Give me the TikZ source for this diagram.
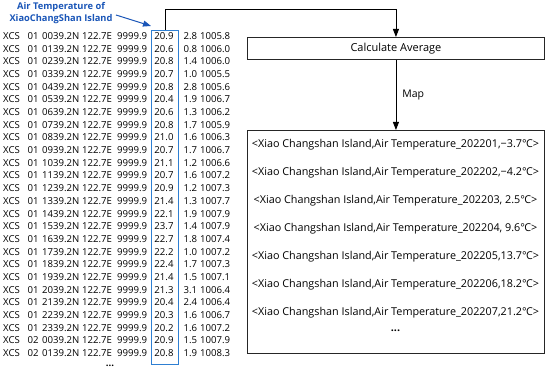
\documentclass[tikz,border=0pt]{standalone}
\usepackage{fontspec}
\setmainfont{Open Sans}
\usetikzlibrary{arrows.meta}
\definecolor{tblue}{HTML}{2E7FD2}
\definecolor{lblue}{HTML}{1A56B8}
\begin{document}
\begin{tikzpicture}[x=1pt,y=-1pt,
  cell/.style={inner sep=0pt,font=\fontsize{9.6}{11}\selectfont,anchor=base west},
  cellc/.style={inner sep=0pt,font=\fontsize{9.6}{11}\selectfont,anchor=base},
  box/.style={draw=black!85,line width=0.9pt,inner sep=0pt,anchor=north west},
  res/.style={inner sep=0pt,font=\fontsize{10.8}{12}\selectfont},
  arr/.style={line width=0.8pt,-{Triangle[length=8pt,width=6pt]}},
  barr/.style={draw=lblue,line width=1pt,-{Triangle[length=8pt,width=6pt]}}]
\useasboundingbox[fill=white] (0,0) rectangle (550,371);
\foreach \d/\t/\a/\w/\p [count=\i] in {
01/0039/20.9/2.8/1005.8, 01/0139/20.6/0.8/1006.0, 01/0239/20.8/1.4/1006.0,
01/0339/20.7/1.0/1005.5, 01/0439/20.8/2.8/1005.6, 01/0539/20.4/1.9/1006.7,
01/0639/20.6/1.3/1006.2, 01/0739/20.8/1.7/1005.9, 01/0839/21.0/1.6/1006.3,
01/0939/20.7/1.7/1006.7, 01/1039/21.1/1.2/1006.6, 01/1139/20.7/1.6/1007.2,
01/1239/20.9/1.2/1007.3, 01/1339/21.4/1.3/1007.7, 01/1439/22.1/1.9/1007.9,
01/1539/23.7/1.4/1007.9, 01/1639/22.7/1.8/1007.4, 01/1739/22.2/1.0/1007.2,
01/1839/22.4/1.7/1007.3, 01/1939/21.4/1.5/1007.1, 01/2039/21.3/3.1/1006.4,
01/2139/20.4/2.4/1006.4, 01/2239/20.3/1.6/1006.7, 01/2339/20.2/1.6/1007.2,
02/0039/20.9/1.5/1007.9, 02/0139/20.8/1.9/1008.3}{
  \pgfmathsetmacro{\yy}{36+12.68*(\i-1)+3.5}
  \node[cell] (s\i) at (3,\yy) {XCS};
  \node[cell] (d\i) at (27.5,\yy) {\d};
  \node[cell] (t\i) at (42,\yy) {\t.2N};
  \node[cell] (lo\i) at (82,\yy) {122.7E};
  \node[cell] (v\i) at (117,\yy) {9999.9};
  \node[cellc] (a\i) at (164,\yy) {\a};
  \node[cell] (w\i) at (183.5,\yy) {\w};
  \node[cell] (p\i) at (200,\yy) {\p};
}
\node[inner sep=0pt,font=\bfseries\fontsize{9.6}{11}\selectfont] (tdots) at (110,366) {...};
\node[draw=tblue,line width=1.2pt,inner sep=0pt,anchor=north west,
  minimum width=27,minimum height=334] (tbox) at (151,30) {};
\node[inner sep=0pt,align=center,text=lblue,font=\bfseries\fontsize{9.3}{12}\selectfont]
  (lbl) at (61,13) {Air Temperature of\\XiaoChangShan Island};
\coordinate (tip) at (151,26);
\draw[barr] (116,15) -- (tip);
\node[box,minimum width=297,minimum height=22] (calcbox) at (247,37) {};
\node[inner sep=0pt,font=\fontsize{11}{12}\selectfont] (calc) at (calcbox.center) {Calculate Average};
\node[box,minimum width=297,minimum height=223] (resbox) at (247,130) {};
\draw[arr] (tbox.north) -- ++(0,-21) -| (calcbox.north);
\draw[arr] (calcbox.south) -- node[right=6pt,inner sep=0pt,font=\fontsize{10.5}{12}\selectfont] (map) {Map} (resbox.north);
\foreach \m/\v [count=\k] in {01/{,−3.7},02/{,−4.2},03/{, 2.5},04/{, 9.6},05/{,13.7},06/{,18.2},07/{,21.2}}{
  \pgfmathsetmacro{\ry}{145+27.9*(\k-1)}
  \node[res] (r\k) at (395.5,\ry) {<Xiao Changshan Island,Air Temperature\_2022\m\v°\kern-0.6ptC>};
}
\node[res,font=\bfseries\fontsize{10.8}{12}\selectfont] (rdots) at (395.5,331) {...};
\end{tikzpicture}
\end{document}
